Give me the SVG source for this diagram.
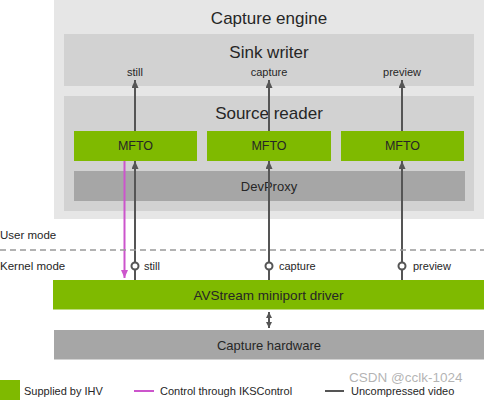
<svg xmlns="http://www.w3.org/2000/svg" width="484" height="400" viewBox="0 0 484 400">
<style>
text{font-family:"Liberation Sans",Arial,sans-serif;fill:#262626;dominant-baseline:central}
.c{text-anchor:middle}
.big{font-size:17px}
.mid{font-size:13px}
.sm{font-size:11px}
.vid{stroke:#555;stroke-width:2;fill:none}
.ctl{stroke:#cc55cc;stroke-width:2;fill:none}
</style>
<defs>
<marker id="ah" viewBox="0 0 8 7" refX="8" refY="3.5" markerWidth="8" markerHeight="7" markerUnits="userSpaceOnUse" orient="auto"><path d="M0,0L8,3.5L0,7z" fill="#555"/></marker>
<marker id="ahp" viewBox="0 0 8 7" refX="8" refY="3.5" markerWidth="8" markerHeight="7" markerUnits="userSpaceOnUse" orient="auto"><path d="M0,0L8,3.5L0,7z" fill="#cc55cc"/></marker>
<marker id="ahs" viewBox="0 0 6 6" refX="6" refY="3" markerWidth="6" markerHeight="6" markerUnits="userSpaceOnUse" orient="auto-start-reverse"><path d="M0,0L6,3L0,6z" fill="#555"/></marker>
</defs>
<g id="capture-engine">
<rect x="54" y="0" width="430" height="219" fill="#e6e6e6"/>
<text class="c big" x="269" y="18">Capture engine</text>
</g>
<g id="sink-writer">
<rect x="64" y="34" width="410" height="52" fill="#d2d2d2"/>
<text class="c big" x="269" y="52">Sink writer</text>
<text class="c sm" x="135" y="72">still</text>
<text class="c sm" x="269" y="72">capture</text>
<text class="c sm" x="402" y="72">preview</text>
</g>
<g id="source-reader">
<rect x="64" y="96" width="410" height="115" fill="#d2d2d2"/>
<text class="c big" x="269" y="113">Source reader</text>
</g>
<g id="devproxy">
<rect x="74" y="171" width="391" height="30" fill="#a6a6a6"/>
<text class="c mid" x="269" y="186">DevProxy</text>
</g>
<g id="connectors">
<line class="vid" x1="135" y1="131" x2="135" y2="80" marker-end="url(#ah)"/>
<line class="vid" x1="269" y1="131" x2="269" y2="80" marker-end="url(#ah)"/>
<line class="vid" x1="402" y1="131" x2="402" y2="80" marker-end="url(#ah)"/>
<line class="vid" x1="135" y1="280" x2="135" y2="161" marker-end="url(#ah)"/>
<line class="vid" x1="269" y1="280" x2="269" y2="161" marker-end="url(#ah)"/>
<line class="vid" x1="402" y1="280" x2="402" y2="161" marker-end="url(#ah)"/>
<line class="ctl" x1="124.5" y1="161" x2="124.5" y2="278" marker-end="url(#ahp)"/>
<line x1="269" y1="312" x2="269" y2="328" stroke="#555" stroke-width="2" marker-start="url(#ahs)" marker-end="url(#ahs)"/>
<circle cx="135" cy="266" r="3.5" fill="#fff" stroke="#555" stroke-width="2"/>
<circle cx="269" cy="266" r="3.5" fill="#fff" stroke="#555" stroke-width="2"/>
<circle cx="402" cy="266" r="3.5" fill="#fff" stroke="#555" stroke-width="2"/>
</g>
<g id="mfto-1">
<rect x="74" y="131" width="123" height="30" fill="#7fba00"/>
<text class="c mid" x="135.5" y="146" style="font-size:12.5px">MFTO</text>
</g>
<g id="mfto-2">
<rect x="207" y="131" width="124" height="30" fill="#7fba00"/>
<text class="c mid" x="269" y="146" style="font-size:12.5px">MFTO</text>
</g>
<g id="mfto-3">
<rect x="341" y="131" width="123" height="30" fill="#7fba00"/>
<text class="c mid" x="402.5" y="146" style="font-size:12.5px">MFTO</text>
</g>
<g id="mode-divider">
<line x1="0" y1="250" x2="484" y2="250" stroke="#999" stroke-width="1.5" stroke-dasharray="6,4"/>
<text class="sm" x="0" y="235" style="font-size:11.5px">User mode</text>
<text class="sm" x="0" y="266" style="font-size:11.5px">Kernel mode</text>
</g>
<g id="pin-labels">
<text class="sm" x="144" y="266">still</text>
<text class="sm" x="279" y="266">capture</text>
<text class="sm" x="413" y="266">preview</text>
</g>
<g id="avstream-driver">
<rect x="53" y="280" width="431" height="29.5" fill="#7fba00"/>
<text class="c" x="268.5" y="295" style="font-size:13.5px">AVStream miniport driver</text>
</g>
<g id="capture-hardware">
<rect x="54" y="330" width="430" height="29.5" fill="#a6a6a6"/>
<text class="c mid" x="269" y="345">Capture hardware</text>
</g>
<g id="legend">
<rect x="0" y="380" width="20" height="20" fill="#7fba00"/>
<text class="sm" x="24" y="391">Supplied by IHV</text>
<line class="ctl" x1="134" y1="391" x2="154" y2="391"/>
<text class="sm" x="160" y="391">Control through IKSControl</text>
<line class="vid" x1="325" y1="391" x2="344" y2="391"/>
<text class="sm" x="351" y="391">Uncompressed video</text>
</g>
<text x="349" y="377" style="font-size:13.5px;fill:#9a9a9a;fill-opacity:0.75">CSDN @cclk-1024</text>
</svg>
